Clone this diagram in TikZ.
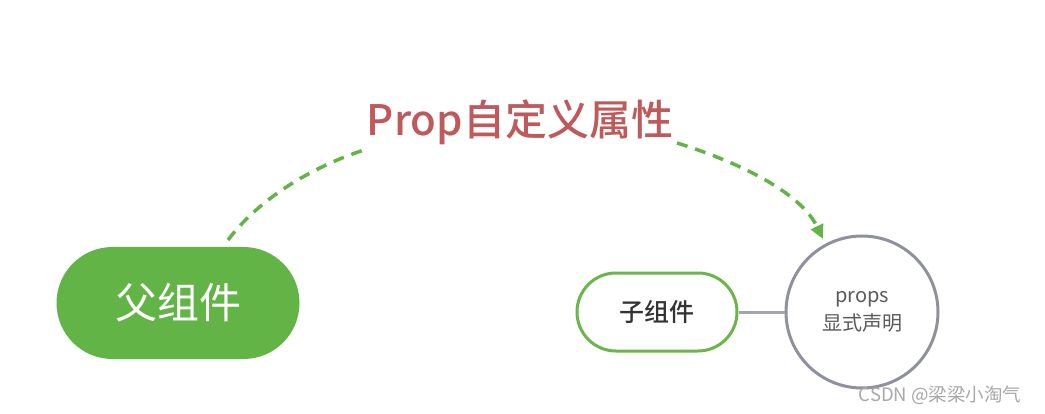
\documentclass[tikz,border=0pt]{standalone}
\usepackage{fontspec}
\setmainfont{Noto Sans CJK SC}
\newfontfamily\cjk{Noto Sans CJK SC}
\newfontfamily\cjkmed{Noto Sans CJK SC Medium}
\usetikzlibrary{arrows.meta}
\definecolor{pgreen}{HTML}{62B446}
\definecolor{bgreen}{HTML}{6BB54A}
\definecolor{tred}{HTML}{BF5A5C}
\definecolor{cgray}{HTML}{8F929C}
\definecolor{lgray}{HTML}{A2A5AE}
\definecolor{tgray}{HTML}{5A5A5A}
\definecolor{dgray}{HTML}{333333}
\definecolor{wgray}{HTML}{A8A8A8}
\tikzset{
  pill/.style={rounded corners=#1, inner sep=0pt, align=center},
  flow/.style={pgreen, line width=3.5pt, dash pattern=on 11pt off 8pt, -{Triangle[length=14pt,width=13pt]}},
  flowplain/.style={pgreen, line width=3.5pt, dash pattern=on 11pt off 8pt},
}
\begin{document}
\begin{tikzpicture}[x=1pt,y=1pt]
\useasboundingbox (0,0) rectangle (1045,413);
\fill[white] (0,0) rectangle (1045,413);
% parent
\node[pill=56pt, fill=pgreen, minimum width=243pt, minimum height=112pt, text=white, font=\cjk\fontsize{42}{50}\selectfont] (parent) at (178,110) {父组件};
% title
\node[text=tred, font=\cjkmed\fontsize{42}{50}\selectfont, inner sep=0pt] (title) at (520,291) {Prop自定义属性};
% child
\node[pill=39pt, draw=bgreen, line width=3pt, fill=white, minimum width=160pt, minimum height=78pt, text=dgray, font=\cjkmed\fontsize{25}{30}\selectfont] (child) at (657,101) {子组件};
% circle
\node[circle, draw=cgray, line width=3pt, minimum size=152pt, inner sep=0pt, text=tgray, font=\cjk\fontsize{20}{28}\selectfont, align=center] (props) at (862,101) {props\\显式声明};
\draw[lgray, line width=3pt] (child.east) -- (props.west);
% dashed arcs
\coordinate (s1) at (228,173);
\coordinate (e1) at (364,263);
\coordinate (s2) at (677,270);
\coordinate (e2) at (823,174);
\draw[flowplain] (s1) .. controls (262,218) and (318,248) .. (e1);
\draw[flow] (s2) .. controls (735,252) and (800,222) .. (e2);
% watermark
\node[text=wgray, font=\cjk\fontsize{18.5}{22}\selectfont, inner sep=0pt] (wm) at (940,18) {CSDN @梁梁小淘气};
\end{tikzpicture}
\end{document}
